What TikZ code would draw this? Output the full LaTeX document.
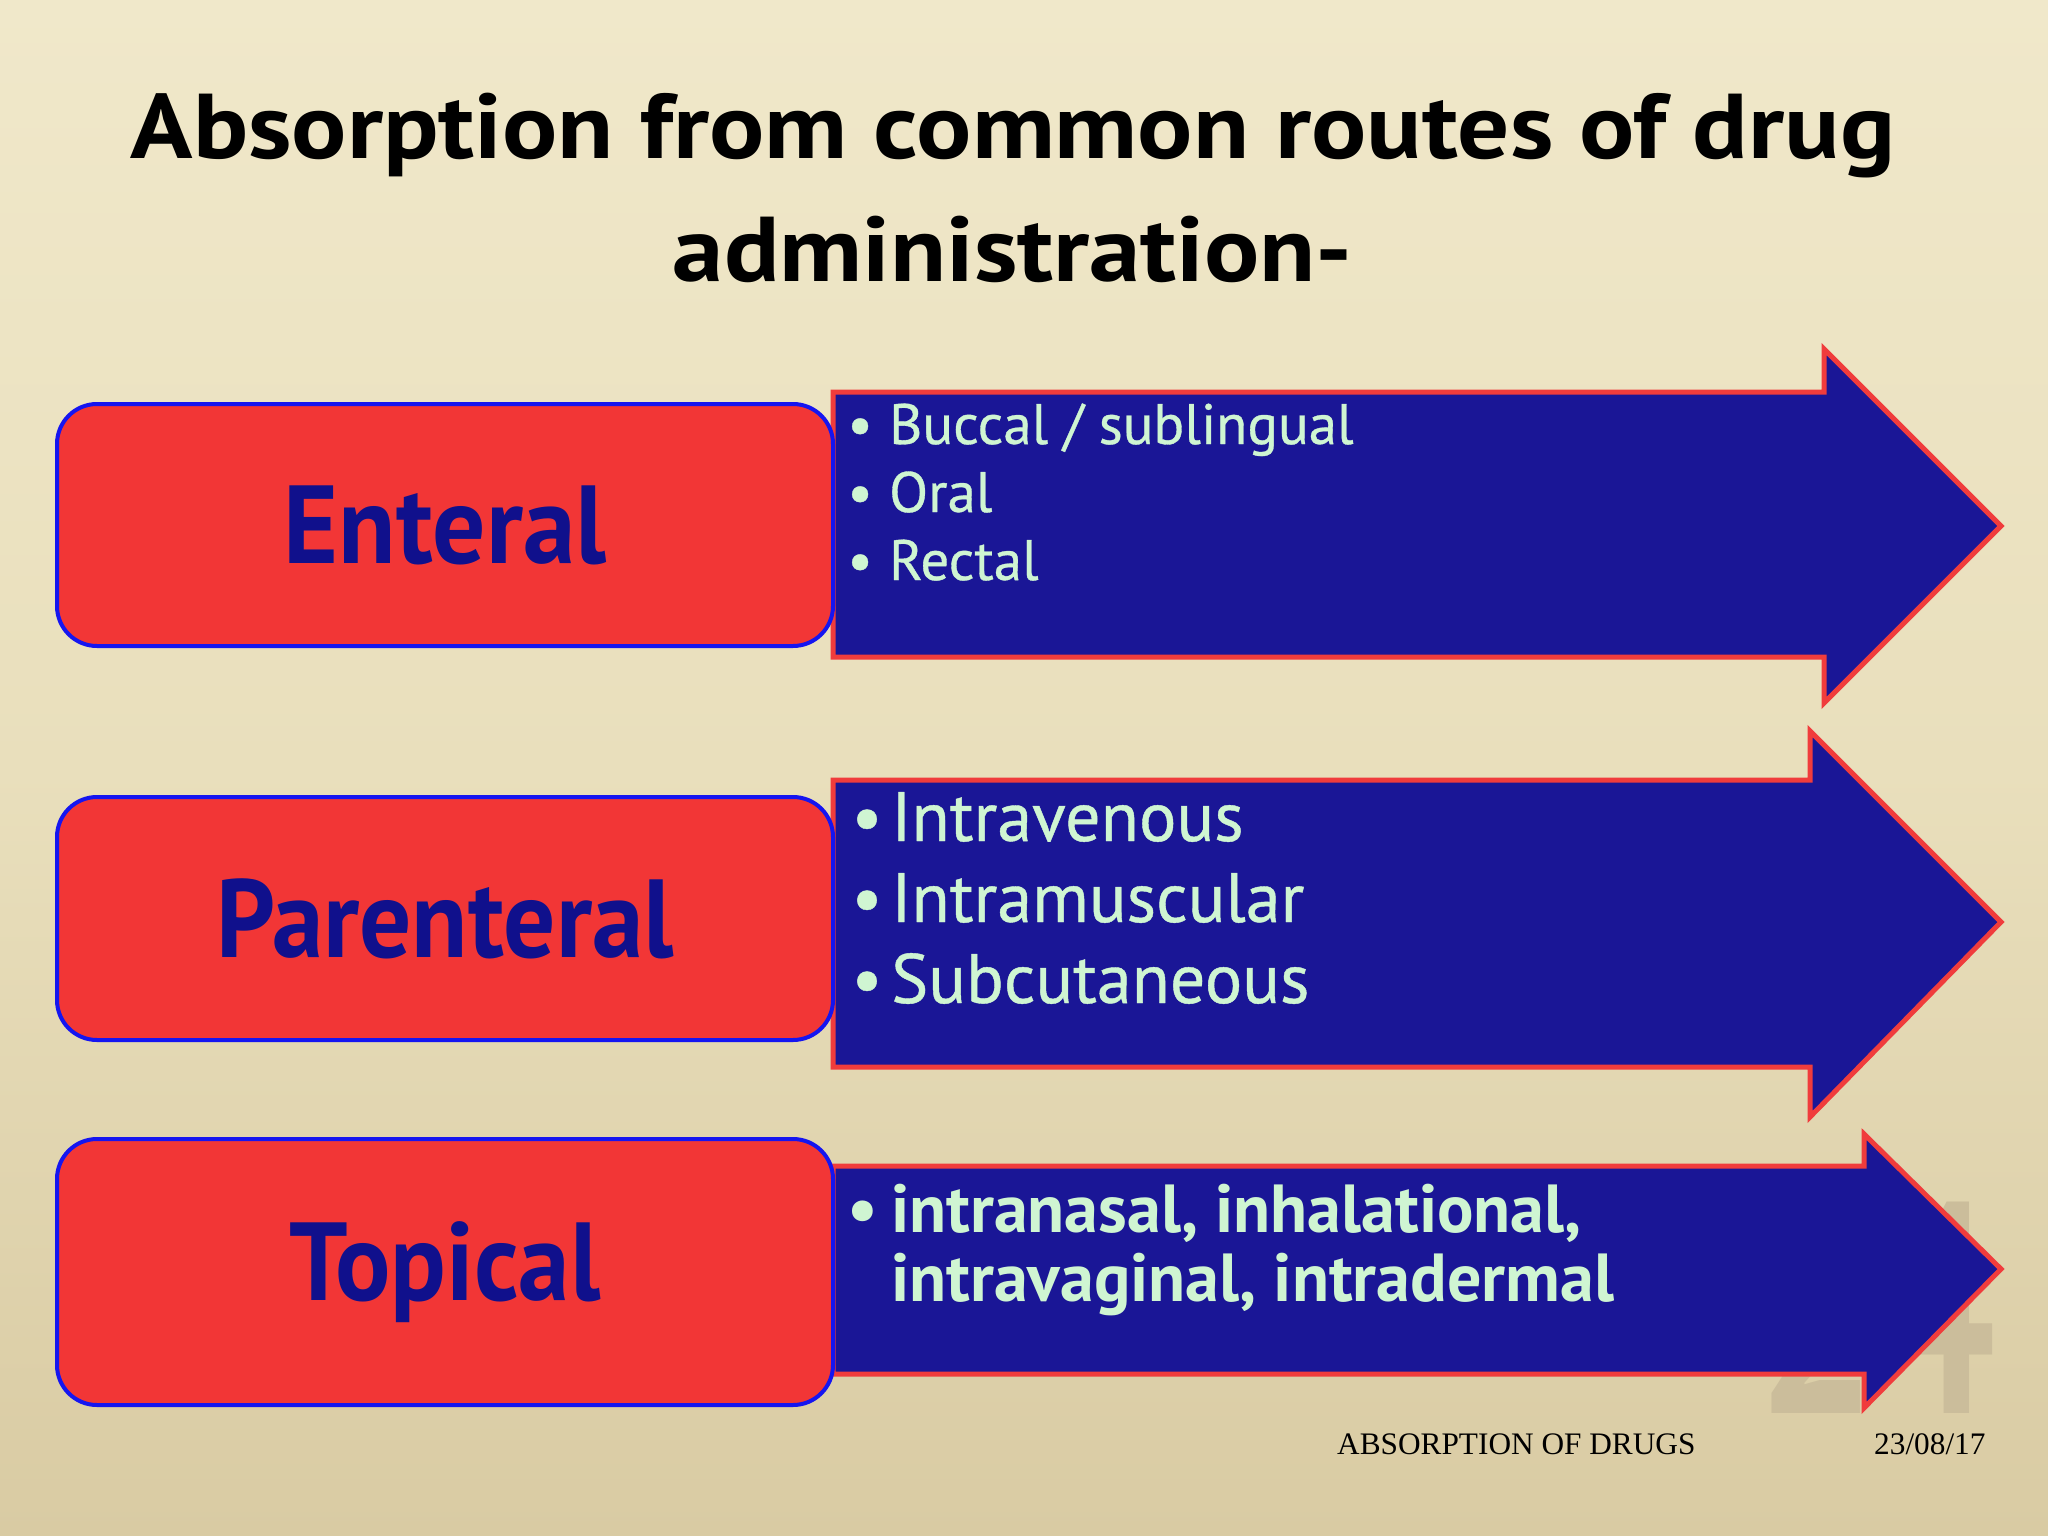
\documentclass[tikz,border=0pt]{standalone}
\usepackage{fontspec}
\setmainfont{PT Sans}
\newfontfamily\itemfont[FakeBold=0.6]{PT Sans}
\newfontfamily\footfont{Liberation Serif}
\definecolor{bgtop}{HTML}{F0E8CA}
\definecolor{bgmid}{HTML}{E9DFBC}
\definecolor{bgbot}{HTML}{D9CBA3}
\definecolor{boxred}{HTML}{F23636}
\definecolor{boxblue}{HTML}{1515F0}
\definecolor{catblue}{HTML}{10108C}
\definecolor{arrownavy}{HTML}{1A1696}
\definecolor{arrowedge}{HTML}{F03C3C}
\definecolor{itemgreen}{HTML}{CFF5D2}
\definecolor{wmark}{HTML}{CBBD9B}
\tikzset{
  catbox/.style={draw=boxblue, fill=boxred, line width=4pt, rounded corners=40pt,
    minimum width=776pt, inner sep=0pt, text=catblue,
    font=\fontsize{111}{130}\selectfont\bfseries},
  bigarrow/.style={fill=arrownavy, draw=arrowedge, line width=5pt, line join=miter},
  itemA/.style={anchor=base west, inner sep=0pt, text=itemgreen, font=\itemfont\fontsize{57}{60}\selectfont},
  itemB/.style={anchor=base west, inner sep=0pt, text=itemgreen, font=\itemfont\fontsize{70}{75}\selectfont},
  itemC/.style={anchor=base west, inner sep=0pt, text=itemgreen, font=\fontsize{68}{72}\selectfont\bfseries},
  titletext/.style={anchor=base, inner sep=0pt, text=black, font=\fontsize{92}{100}\selectfont\bfseries},
  foot/.style={anchor=base west, inner sep=0pt, text=black, font=\footfont\fontsize{31.3}{34}\selectfont}
}
\begin{document}
\begin{tikzpicture}[x=1pt,y=-1pt]
\useasboundingbox (0,0) rectangle (2048,1536);
\shade[top color=bgtop, bottom color=bgbot, middle color=bgmid] (0,0) rectangle (2048,1536);
% watermark slide number
\node[anchor=base east, inner sep=0pt, text=wmark, font=\fontsize{300}{300}\selectfont\bfseries] (slidenum) at (1996,1413) {\scalebox{0.7}[1]{24}};
% title
\node[titletext] (title1) at (1013,159) {\scalebox{1.12}[1]{Absorption from common routes of drug}};
\node[titletext] (title2) at (1013,281) {\scalebox{1.12}[1]{administration-}};
% arrows
\draw[bigarrow] (833,392) -- (1824,392) -- (1824,349) -- (2001,526) -- (1824,703) -- (1824,657) -- (833,657) -- cycle;
\draw[bigarrow] (833,780) -- (1810,780) -- (1810,731) -- (2001,922) -- (1810,1117) -- (1810,1067) -- (833,1067) -- cycle;
\draw[bigarrow] (833,1166) -- (1864,1166) -- (1864,1134) -- (2001,1269) -- (1864,1408) -- (1864,1374) -- (833,1374) -- cycle;
% category boxes
\node[catbox, minimum height=242pt] (enteral) at (445,525) {\scalebox{0.95}[1]{Enteral}};
\node[catbox, minimum height=243pt] (parenteral) at (445,918.5) {\scalebox{0.93}[1]{Parenteral}};
\node[catbox, minimum height=266pt] (topical) at (445,1272) {\scalebox{0.93}[1]{Topical}};
% arrow 1 items
\node[itemA] (a1) at (847,444) {\makebox[42pt][l]{•}Buccal / sublingual};
\node[itemA] (a2) at (847,512) {\makebox[42pt][l]{•}Oral};
\node[itemA] (a3) at (847,580) {\makebox[42pt][l]{•}Rectal};
% arrow 2 items
\node[itemB] (b1) at (851,841) {\makebox[40pt][l]{•}Intravenous};
\node[itemB] (b2) at (851,922) {\makebox[40pt][l]{•}Intramuscular};
\node[itemB] (b3) at (851,1003) {\makebox[40pt][l]{•}Subcutaneous};
% arrow 3 items
\node[itemC] (c1) at (847,1232) {\makebox[44pt][l]{•}intranasal, inhalational,};
\node[itemC] (c2) at (891,1301) {intravaginal, intradermal};
% footer
\node[foot] (footl) at (1337,1454) {ABSORPTION OF DRUGS};
\node[foot] (footr) at (1874,1454) {23/08/17};
\end{tikzpicture}
\end{document}
